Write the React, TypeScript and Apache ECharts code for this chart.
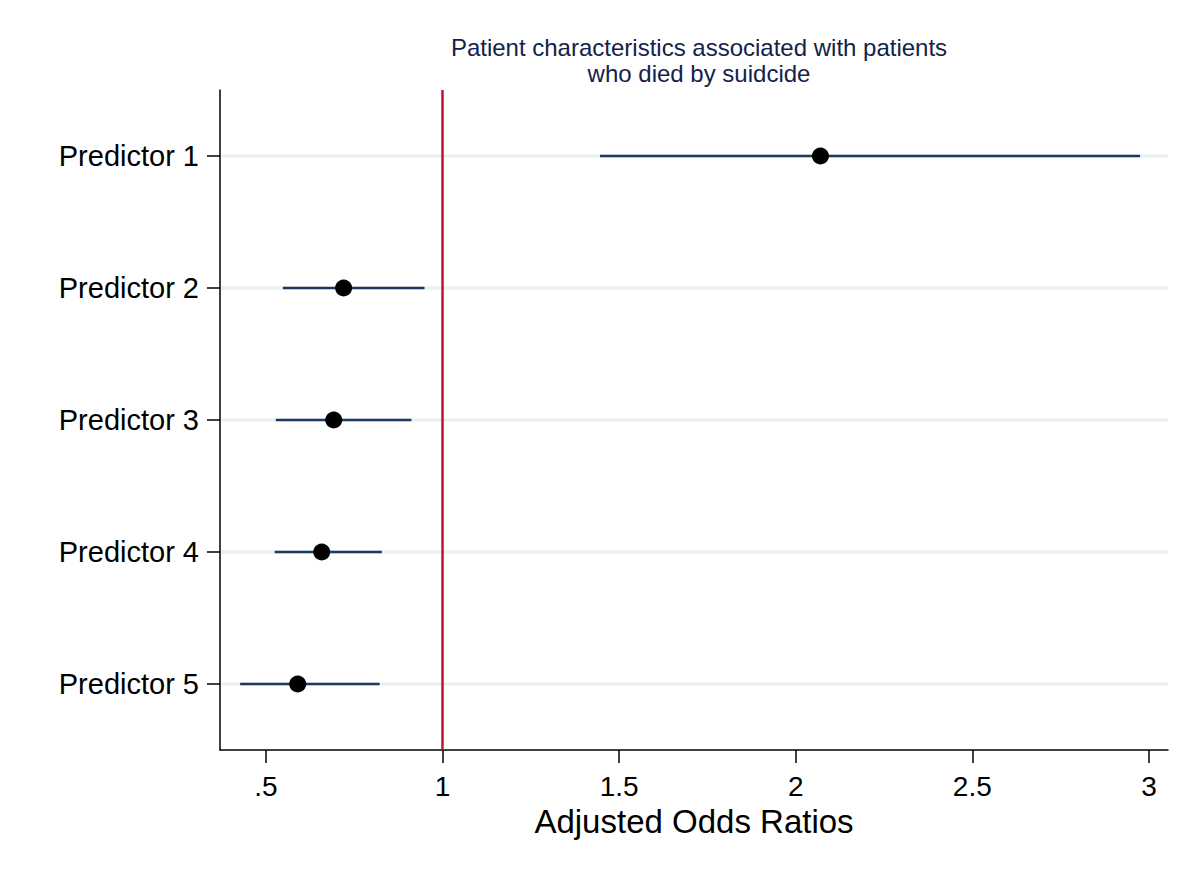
import React, { useEffect, useRef } from "react";
import * as echarts from "echarts";

const predictors = ["Predictor 1", "Predictor 2", "Predictor 3", "Predictor 4", "Predictor 5"];
const oddsRatios = [2.07, 0.72, 0.692, 0.658, 0.59];
const ciLower = [1.446, 0.548, 0.528, 0.525, 0.427];
const ciUpper = [2.975, 0.949, 0.912, 0.828, 0.822];
const xTicks = [0.5, 1, 1.5, 2, 2.5, 3];
const referenceValue = 1;
const titleLines = ["Patient characteristics associated with patients", "who died by suidcide"];
const xAxisTitle = "Adjusted Odds Ratios";

const FONT = "'Liberation Sans', Arial, Helvetica, sans-serif";

export default function App() {
  const ref = useRef<HTMLDivElement>(null);

  useEffect(() => {
    document.body.style.margin = "0";
    const chart = echarts.init(ref.current!, null, { renderer: "svg" });
    const yPos = predictors.map((_, i) => i + 1);

    chart.setOption({
      animation: false,
      backgroundColor: "#ffffff",
      title: {
        text: titleLines.join("\n"),
        left: 694,
        top: 29,
        textAlign: "center",
        textStyle: {
          fontFamily: FONT,
          fontSize: 24,
          fontWeight: "normal",
          color: "#14224a",
          lineHeight: 26,
        },
      },
      grid: { left: 220, right: 32, top: 90, bottom: 123, containLabel: false },
      xAxis: {
        type: "value",
        min: 0.37,
        max: 3.054,
        name: xAxisTitle,
        nameLocation: "middle",
        nameGap: 48,
        nameTextStyle: { fontFamily: FONT, fontSize: 33, color: "#000" },
        axisLine: { show: true, lineStyle: { color: "#000", width: 1.5 } },
        axisTick: { show: true, length: 13, lineStyle: { color: "#000", width: 1.5 }, customValues: xTicks },
        axisLabel: {
          customValues: xTicks,
          margin: 22,
          fontFamily: FONT,
          fontSize: 28,
          color: "#000",
          formatter: (v: number) => (v === 0.5 ? ".5" : String(v)),
        },
        splitLine: { show: false },
      },
      yAxis: {
        type: "value",
        min: 0.5,
        max: 5.5,
        inverse: true,
        axisLine: { show: true, lineStyle: { color: "#000", width: 1.5 } },
        axisTick: { show: true, length: 13, lineStyle: { color: "#000", width: 1.5 }, customValues: yPos },
        axisLabel: {
          customValues: yPos,
          margin: 21,
          fontFamily: FONT,
          fontSize: 29,
          color: "#000",
          formatter: (v: number) => predictors[Math.round(v) - 1] ?? "",
        },
        splitLine: { show: false },
      },
      series: [
        {
          type: "custom",
          z: 1,
          silent: true,
          data: yPos.map((y) => [y]),
          renderItem: (params: any, api: any) => {
            const cs = params.coordSys;
            const p = api.coord([1, api.value(0)]);
            return {
              type: "line",
              shape: { x1: cs.x + 1, y1: p[1], x2: cs.x + cs.width, y2: p[1] },
              style: { stroke: "#e8f0f2", lineWidth: 3 },
            };
          },
        },
        {
          type: "custom",
          z: 3,
          silent: true,
          data: predictors.map((_, i) => [ciLower[i], ciUpper[i], i + 1]),
          renderItem: (params: any, api: any) => {
            const p1 = api.coord([api.value(0), api.value(2)]);
            const p2 = api.coord([api.value(1), api.value(2)]);
            return {
              type: "line",
              shape: { x1: p1[0], y1: p1[1], x2: p2[0], y2: p2[1] },
              style: { stroke: "#1a3a62", lineWidth: 2.5, opacity: 1 },
            };
          },
        },
        {
          type: "line",
          data: [],
          silent: true,
          z: 4,
          markLine: {
            silent: true,
            symbol: "none",
            label: { show: false },
            lineStyle: { color: "#c4122f", width: 2.5, type: "solid", opacity: 1 },
            data: [{ xAxis: referenceValue }],
          },
        },
        {
          type: "scatter",
          z: 5,
          symbol: "circle",
          symbolSize: 17,
          itemStyle: { color: "#000000", opacity: 1 },
          data: predictors.map((_, i) => [oddsRatios[i], i + 1]),
        },
      ],
    });

    return () => chart.dispose();
  }, []);

  return <div ref={ref} style={{ width: 1200, height: 873 }} />;
}
